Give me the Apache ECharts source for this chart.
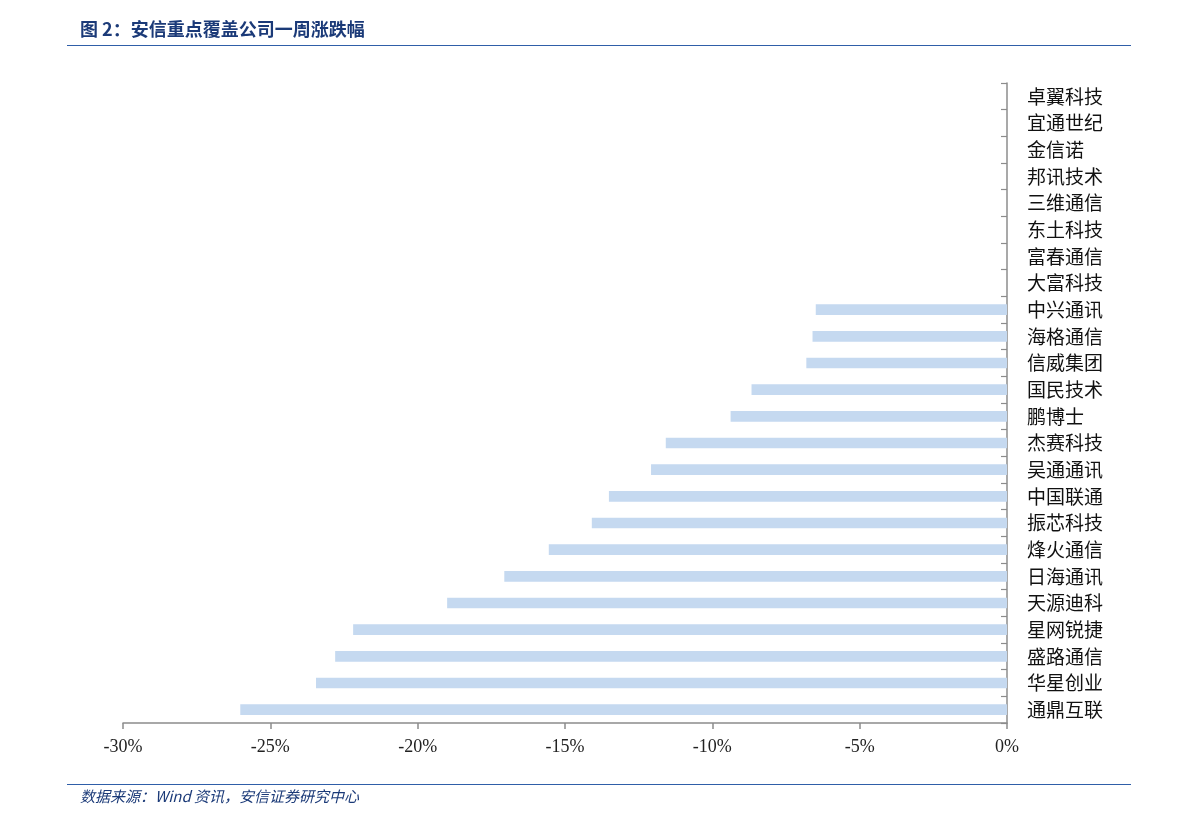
<!DOCTYPE html>
<html>
<head>
<meta charset="utf-8">
<script src="https://cdn.jsdelivr.net/npm/echarts@6/dist/echarts.min.js"></script>
<style>
  html, body { margin: 0; padding: 0; background: #fff; }
  #chart { width: 1191px; height: 825px; }
</style>
</head>
<body>
<div id="chart"></div>
<script>
// 公司名称（从上到下）
const companies = ['卓翼科技', '宜通世纪', '金信诺', '邦讯技术', '三维通信', '东土科技', '富春通信', '大富科技',
  '中兴通讯', '海格通信', '信威集团', '国民技术', '鹏博士', '杰赛科技', '吴通通讯', '中国联通',
  '振芯科技', '烽火通信', '日海通讯', '天源迪科', '星网锐捷', '盛路通信', '华星创业', '通鼎互联'];
// 一周涨跌幅 (%)，前几家没有可见的柱子
const weeklyChange = [0, 0, 0, 0, 0, 0, 0, 0,
  -6.49, -6.60, -6.81, -8.67, -9.38, -11.58, -12.08, -13.51,
  -14.09, -15.55, -17.06, -19.00, -22.19, -22.80, -23.45, -26.02];
const xTicks = [-30, -25, -20, -15, -10, -5, 0];

const chart = echarts.init(document.getElementById('chart'));
const lineColor = '#2f5ea8';

const option = {
  animation: false,
  title: [
    {
      text: '图 2：安信重点覆盖公司一周涨跌幅',
      left: 80, top: 20, padding: 0,
      textStyle: { fontFamily: 'Noto Sans CJK SC', fontSize: 18, fontWeight: 'bold', color: '#1b3a78' }
    },
    {
      text: '数据来源：Wind 资讯，安信证券研究中心',
      left: 80, top: 789, padding: 0,
      textStyle: { fontFamily: 'Noto Sans CJK SC', fontSize: 15, fontStyle: 'italic', fontWeight: 'normal', color: '#1b3a78' }
    }
  ],
  graphic: [
    { type: 'line', shape: { x1: 67, y1: 45.5, x2: 1131, y2: 45.5 }, style: { stroke: lineColor, lineWidth: 1.2 } },
    { type: 'line', shape: { x1: 67, y1: 784.5, x2: 1131, y2: 784.5 }, style: { stroke: lineColor, lineWidth: 1.2 } }
  ],
  grid: { left: 123, right: 184, top: 83, bottom: 102 },
  xAxis: {
    type: 'value',
    min: xTicks[0], max: xTicks[xTicks.length - 1], interval: 5,
    splitLine: { show: false },
    axisLine: { show: true, lineStyle: { color: '#8c8c8c', width: 1.5 } },
    axisTick: { show: true, length: 6, lineStyle: { color: '#8c8c8c', width: 1.5 } },
    axisLabel: {
      margin: 15,
      fontFamily: 'Liberation Serif', fontSize: 18, color: '#222',
      formatter: v => v + '%'
    }
  },
  yAxis: {
    type: 'category',
    data: companies,
    inverse: true,
    position: 'right',
    axisLine: { show: true, onZero: false, lineStyle: { color: '#8c8c8c', width: 1.5 } },
    axisTick: { show: true, inside: true, length: 6, lineStyle: { color: '#8c8c8c', width: 1.2 } },
    axisLabel: {
      margin: 20,
      fontFamily: 'Noto Sans CJK SC', fontSize: 19, color: '#111'
    }
  },
  series: [{
    type: 'bar',
    data: weeklyChange,
    barWidth: '40%',
    itemStyle: { color: '#c5d9f0' }
  }]
};

chart.setOption(option);
</script>
</body>
</html>
